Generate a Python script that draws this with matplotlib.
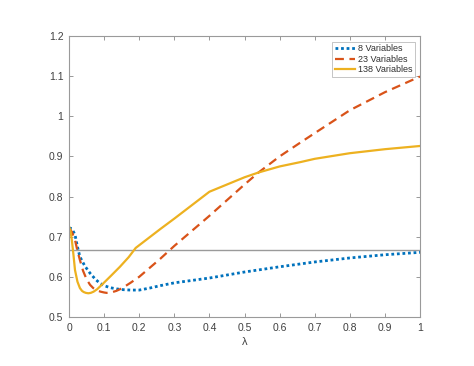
import matplotlib
matplotlib.use("Agg")
import matplotlib.pyplot as plt
import numpy as np

plt.rcParams['font.family'] = ['Liberation Sans', 'DejaVu Sans']

x8 = [0.0, 0.008, 0.017, 0.024, 0.031, 0.045, 0.06, 0.075, 0.088, 0.1, 0.117, 0.135, 0.154, 0.175, 0.2, 0.23, 0.26, 0.3, 0.4, 0.5, 0.6, 0.7, 0.8, 0.9, 1.0]
y8 = [0.722, 0.72, 0.705, 0.675, 0.65, 0.627, 0.609, 0.594, 0.584, 0.578, 0.573, 0.57, 0.568, 0.567, 0.567, 0.572, 0.578, 0.585, 0.597, 0.612, 0.625, 0.637, 0.647, 0.655, 0.661]

x23 = [0.0, 0.008, 0.017, 0.024, 0.031, 0.04, 0.05, 0.06, 0.069, 0.08, 0.09, 0.1, 0.107, 0.12, 0.135, 0.15, 0.175, 0.2, 0.26, 0.3, 0.4, 0.5, 0.54, 0.6, 0.66, 0.7, 0.8, 0.9, 1.0]
y23 = [0.722, 0.712, 0.692, 0.665, 0.642, 0.615, 0.594, 0.58, 0.572, 0.566, 0.563, 0.561, 0.56, 0.561, 0.565, 0.571, 0.585, 0.6, 0.645, 0.677, 0.752, 0.83, 0.86, 0.9, 0.935, 0.958, 1.015, 1.06, 1.099]

x138 = [0.0, 0.004, 0.008, 0.013, 0.017, 0.024, 0.031, 0.037, 0.042, 0.048, 0.055, 0.062, 0.07, 0.08, 0.098, 0.12, 0.145, 0.17, 0.19, 0.26, 0.3, 0.4, 0.5, 0.54, 0.6, 0.66, 0.7, 0.8, 0.9, 1.0]
y138 = [0.725, 0.715, 0.692, 0.652, 0.617, 0.588, 0.572, 0.565, 0.562, 0.56, 0.559, 0.56, 0.563, 0.569, 0.584, 0.603, 0.625, 0.649, 0.672, 0.719, 0.745, 0.812, 0.848, 0.86, 0.875, 0.886, 0.894, 0.908, 0.918, 0.926]

baseline = 0.667

xticks = [0, 0.1, 0.2, 0.3, 0.4, 0.5, 0.6, 0.7, 0.8, 0.9, 1]
xticklabels = ['0', '0.1', '0.2', '0.3', '0.4', '0.5', '0.6', '0.7', '0.8', '0.9', '1']
yticks = [0.5, 0.6, 0.7, 0.8, 0.9, 1.0, 1.1, 1.2]
yticklabels = ['0.5', '0.6', '0.7', '0.8', '0.9', '1', '1.1', '1.2']

fig = plt.figure(figsize=(4.74, 3.66), dpi=100)
ax = fig.add_axes([0.1456, 0.134, 0.7405, 0.7676])

ax.axhline(baseline, color='#9a9a9a', lw=1.0, zorder=1)
ax.plot(x8, y8, linestyle=(0, (1, 1)), color='#0072BD', lw=2.0, label='8 Variables')
ax.plot(x23, y23, linestyle=(0, (4, 2.5)), color='#D95319', lw=1.6, label='23 Variables')
ax.plot(x138, y138, linestyle='-', color='#EDB120', lw=1.6, label='138 Variables')

ax.set_xlim(0, 1)
ax.set_ylim(0.5, 1.2)
ax.set_xticks(xticks)
ax.set_xticklabels(xticklabels)
ax.set_yticks(yticks)
ax.set_yticklabels(yticklabels)
ax.tick_params(direction='in', length=3, width=0.6, colors='#888888', labelcolor='#404040',
               labelsize=7.5, top=True, right=True, pad=4)
for s in ax.spines.values():
    s.set_color('#9a9a9a')
    s.set_linewidth(0.8)
ax.set_xlabel('λ', fontsize=8, color='#404040', labelpad=3)

leg = ax.legend(loc='upper right', bbox_to_anchor=(0.985, 0.98), fontsize=6.5, frameon=True,
                fancybox=False, edgecolor='#aaaaaa', handlelength=2.2, handletextpad=0.3,
                labelspacing=0.15, borderpad=0.3, borderaxespad=0)
leg.get_frame().set_linewidth(0.6)
for t in leg.get_texts():
    t.set_color('#303030')

fig.savefig('out.png', dpi=100)
